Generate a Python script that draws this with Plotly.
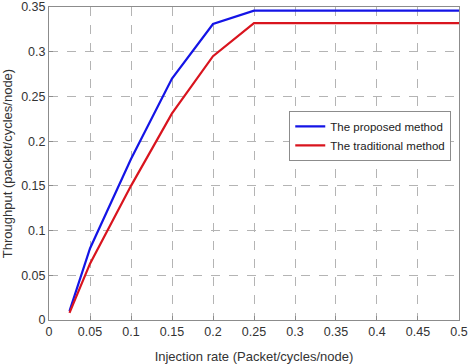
import plotly.graph_objects as go

x_rate = [0.025, 0.05, 0.1, 0.15, 0.2, 0.25, 0.3, 0.35, 0.4, 0.45, 0.5]
proposed = [0.010, 0.080, 0.180, 0.270, 0.331, 0.346, 0.346, 0.346, 0.346, 0.346, 0.346]
traditional = [0.008, 0.063, 0.150, 0.231, 0.295, 0.332, 0.332, 0.332, 0.332, 0.332, 0.332]

x_ticks = [0, 0.05, 0.1, 0.15, 0.2, 0.25, 0.3, 0.35, 0.4, 0.45, 0.5]
x_labels = ["0", "0.05", "0.1", "0.15", "0.2", "0.25", "0.3", "0.35", "0.4", "0.45", "0.5"]
y_ticks = [0, 0.05, 0.1, 0.15, 0.2, 0.25, 0.3, 0.35]
y_labels = ["0", "0.05", "0.1", "0.15", "0.2", "0.25", "0.3", "0.35"]

fig = go.Figure()
fig.add_trace(go.Scatter(x=x_rate, y=proposed, mode="lines", name="The proposed method",
                         line=dict(color="#1414e6", width=2.2)))
fig.add_trace(go.Scatter(x=x_rate, y=traditional, mode="lines", name="The traditional method",
                         line=dict(color="#d9141e", width=2.2)))

axis_common = dict(showgrid=True, gridcolor="#b4b4b4", griddash="dash", gridwidth=1,
                   showline=True, linecolor="#8c8c8c", linewidth=1, mirror=True,
                   ticks="inside", ticklen=4, tickcolor="#8c8c8c",
                   zeroline=False, automargin=False,
                   tickfont=dict(size=12.5, color="#333333"))

fig.update_layout(
    width=474, height=364,
    margin=dict(l=49, r=15, t=7, b=44),
    paper_bgcolor="white", plot_bgcolor="white",
    font=dict(family="Liberation Sans, Arial, sans-serif", color="#333333"),
    xaxis=dict(range=[0, 0.50001], tickvals=x_ticks, ticktext=x_labels,
               title=dict(text="Injection rate (Packet/cycles/node)", font=dict(size=13)),
               **axis_common),
    yaxis=dict(range=[0, 0.35001], tickvals=y_ticks, ticktext=y_labels,
               title=dict(text="Throughput (packet/cycles/node)", font=dict(size=13)),
               **axis_common),
    legend=dict(x=0.586, y=0.668, xanchor="left", yanchor="top",
                bgcolor="white", bordercolor="#8c8c8c", borderwidth=1,
                font=dict(size=11.5, color="#222222"), tracegroupgap=0,
                itemwidth=30),
    showlegend=True,
)

fig.write_html("out.html", post_script="document.body.style.margin='0';",
               config={"displayModeBar": False})
